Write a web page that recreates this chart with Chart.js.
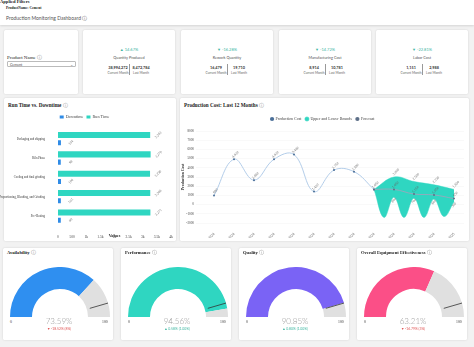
<!DOCTYPE html>
<html><head><meta charset="utf-8">
<script src="https://cdn.jsdelivr.net/npm/chart.js@4.4.1/dist/chart.umd.min.js"></script>
<style>
html,body{margin:0;padding:0;}
body{width:474px;height:347px;background:#f2f2f2;position:relative;overflow:hidden;font-family:Lato,"Liberation Sans",sans-serif;color:#444;}
.abs{position:absolute;}
.card{position:absolute;background:#fff;box-shadow:0 0 2px rgba(0,0,0,0.15);border-radius:1.5px;}
.ttl{position:absolute;font-family:"Liberation Serif",serif;font-weight:bold;font-size:5.2px;color:#222;white-space:nowrap;}
.ctr{position:absolute;left:0;right:0;text-align:center;white-space:nowrap;}
canvas{position:absolute;}
</style></head>
<body>
<div class="abs" style="left:0;top:0;width:474px;height:25px;background:#fff;box-shadow:0 1px 2px rgba(0,0,0,0.12);"></div>
<div class="abs" style="left:0;top:-1px;font-family:'Liberation Serif',serif;font-weight:bold;font-size:4.6px;color:#222;">Applied Filters</div>
<div class="abs" style="left:6px;top:6px;font-family:'Liberation Serif',serif;font-weight:bold;font-size:3.6px;color:#222;">ProductName: Cement</div>
<div class="abs" style="left:6px;top:14.5px;font-size:5px;color:#555;">Production Monitoring Dashboard &#9432;</div>

<div class="card" style="left:4px;top:30px;width:74px;height:64px;">
  <div class="abs" style="left:3px;top:23.5px;font-family:'Liberation Serif',serif;font-size:5px;color:#222;">Product Name <span style="color:#888">&#9432;</span></div>
  <div class="abs" style="left:3px;top:31px;width:69px;height:6px;border:0.5px solid #bbb;border-radius:1px;font-size:3.6px;line-height:6px;box-sizing:border-box;padding-left:2px;color:#444;">Cement<span style="position:absolute;right:2px;top:0;color:#777;font-size:3.6px;">&#8964;</span></div>
</div>
<div id="kpis"></div>

<div class="card" style="left:4px;top:98px;width:172px;height:143px;">
  <div class="ttl" style="left:4px;top:4px;">Run Time vs. Downtime <span style="color:#888;font-weight:normal">&#9432;</span></div>
</div>
<canvas id="bar" width="176" height="126" style="left:-2px;top:112px;"></canvas>

<div class="card" style="left:180px;top:98px;width:289px;height:143px;">
  <div class="ttl" style="left:4px;top:4px;">Production Cost: Last 12 Months <span style="color:#888;font-weight:normal">&#9432;</span></div>
</div>
<canvas id="line" width="288" height="125" style="left:180px;top:113px;"></canvas>

<div id="gauges"></div>

<script>
// ---------- DATA ----------
const kpiNames = ['Quantity Produced', 'Rework Quantity', 'Manufacturing Cost', 'Labor Cost'];
const kpiChange = [14.67, -16.28, -14.72, -22.81];
const kpiCurrent = [38994272, 16479, 8914, 1151];
const kpiLast = [8472784, 19710, 10781, 2988];

const barCategories = ['Packaging and shipping', 'Kiln Phase', 'Cooling and final grinding', 'Proportioning, Blending, and Grinding', 'Pre-Heating'];
const runTime = [3263, 3279, 3258, 3266, 3271];
const downTime = [104, 98, 106, 101, 99];
const barTickMax = 4000;

const months = ['Jan 2024','Feb 2024','Mar 2024','Apr 2024','May 2024','Jun 2024','Jul 2024','Aug 2024','Sep 2024','Oct 2024','Nov 2024','Dec 2024','Jan 2025'];
const productionCost = [980, 4930, 2660, 4930, 5440, 1420, 3750, 3580, 1650];
const forecastCost = [1650, 1650, 1150, 1050, 650];      // from Sep 2024 on
const upperBound = [1650, 3000, 2500, 2150, 1650];       // monthly, from Sep 2024 on
const lowerBound = [1650, -1400, 800, -1400, 700, -1400, 600, -1300, 300]; // half-month steps, from Sep 2024 on

const gaugeNames = ['Availability', 'Performance', 'Quality', 'Overall Equipment Effectiveness'];
const gaugeValues = [73.59, 94.56, 90.85, 63.21];
const gaugeChange = [-18.52, 0.58, 0.80, -16.79];
const gaugeNote = ['8%', '1.00%', '1.00%', '3%'];
const gaugeTargets = [91, 91, 91, 91];
const gaugeColors = ['#2f8ff0', '#2fd6c1', '#7a63f5', '#fb4f87'];

// ---------- KPI CARDS ----------
const fmt = v => v.toLocaleString('en-US');
const kpiLefts = [83, 181, 279, 376];
let kh = '';
kpiNames.forEach((n, i) => {
  const up = kpiChange[i] >= 0;
  kh += `<div class="card" style="left:${kpiLefts[i]}px;top:30px;width:92px;height:64px;">
    <div class="ctr" style="top:17px;font-size:4px;color:#3bb59f;">${up ? '&#9650;' : '&#9660;'} ${kpiChange[i].toFixed(2)}%</div>
    <div class="ctr" style="top:24.5px;font-size:3.8px;color:#555;">${n}</div>
    <div class="abs" style="left:46px;top:34px;width:0.6px;height:11px;background:#999;"></div>
    <div class="abs" style="left:24px;width:22px;top:35px;text-align:center;font-size:3.8px;font-weight:bold;color:#333;">${fmt(kpiCurrent[i])}</div>
    <div class="abs" style="left:47px;width:22px;top:35px;text-align:center;font-size:3.8px;font-weight:bold;color:#333;">${fmt(kpiLast[i])}</div>
    <div class="abs" style="left:24px;width:22px;top:40.5px;text-align:center;font-size:3.2px;color:#666;">Current Month</div>
    <div class="abs" style="left:47px;width:22px;top:40.5px;text-align:center;font-size:3.2px;color:#666;">Last Month</div>
  </div>`;
});
document.getElementById('kpis').innerHTML = kh;

// ---------- GAUGE CARDS ----------
const gLefts = [3, 121, 239, 357];
let gh = '';
gaugeNames.forEach((n, i) => {
  const up = gaugeChange[i] >= 0;
  gh += `<div class="card" style="left:${gLefts[i]}px;top:248px;width:110px;height:92px;">
    <div class="ttl" style="left:4px;top:2px;font-size:4.6px;">${n} <span style="color:#888;font-weight:normal">&#9432;</span></div>
    <canvas id="g${i}" width="100" height="50" style="left:6.5px;top:18.7px;"></canvas>
    <div class="abs" style="left:7px;top:72px;font-size:3.8px;color:#333;font-family:'Liberation Serif',serif;">0</div>
    <div class="abs" style="left:99px;top:72px;font-size:3.8px;color:#333;font-family:'Liberation Serif',serif;">100</div>
    <div class="ctr" style="top:68px;left:2px;font-size:8px;font-weight:300;color:#999;">${gaugeValues[i].toFixed(2)}%</div>
    <div class="ctr" style="top:78.5px;left:2px;font-size:3.4px;color:${up ? '#3bb59f' : '#e05555'};">${up ? '&#9650;' : '&#9660;'} ${gaugeChange[i].toFixed(2)}% (${gaugeNote[i]})</div>
  </div>`;
});
document.getElementById('gauges').innerHTML = gh;

// ---------- PLUGINS ----------
const SERIF = '"Liberation Serif", serif';
const valueLabels = {
  id: 'valueLabels',
  afterDatasetsDraw(chart) {
    const ctx = chart.ctx;
    chart.data.datasets.forEach((ds, i) => {
      if (!ds.lbl) return;
      const meta = chart.getDatasetMeta(i);
      meta.data.forEach((el, j) => {
        let v = ds.data[j];
        if (v && typeof v === 'object') { if (ds.lbl.intOnly && !Number.isInteger(v.x)) return; v = v.y; }
        if (v === null || v === undefined) return;
        if (ds.lbl.skip && ds.lbl.skip.includes(j)) return;
        ctx.save();
        ctx.translate(el.x + ds.lbl.dx, el.y + ds.lbl.dy);
        ctx.rotate(-Math.PI / 4);
        ctx.font = `${ds.lbl.size || 3.6}px ${SERIF}`;
        ctx.fillStyle = '#666';
        ctx.textAlign = 'center';
        ctx.textBaseline = 'middle';
        ctx.fillText(fmt(v), 0, 0);
        ctx.restore();
      });
    });
  }
};
const gaugeMarker = {
  id: 'gaugeMarker',
  afterDatasetsDraw(chart, args, opts) {
    const arc = chart.getDatasetMeta(0).data[0];
    const a = arc.startAngle + (opts.value / 100) * Math.PI;
    const ctx = chart.ctx;
    ctx.save();
    ctx.strokeStyle = '#333';
    ctx.lineWidth = 0.8;
    ctx.beginPath();
    ctx.moveTo(arc.x + Math.cos(a) * (arc.innerRadius + 3), arc.y + Math.sin(a) * (arc.innerRadius + 3));
    ctx.lineTo(arc.x + Math.cos(a) * arc.outerRadius, arc.y + Math.sin(a) * arc.outerRadius);
    ctx.stroke();
    ctx.restore();
  }
};

// ---------- BAR CHART ----------
new Chart(document.getElementById('bar'), {
  type: 'bar',
  data: {
    labels: barCategories,
    datasets: [
      { label: 'Run Time', data: runTime, backgroundColor: '#2fd6c1', barPercentage: 0.78, categoryPercentage: 0.8, lbl: { dx: 8, dy: 0 } },
      { label: 'Downtime', data: downTime, backgroundColor: '#2f8be6', barPercentage: 0.65, categoryPercentage: 0.8, lbl: { dx: 10, dy: 0 } }
    ]
  },
  options: {
    indexAxis: 'y', responsive: false, animation: false, events: [],
    layout: { padding: { right: 3, left: 0, top: 0, bottom: 0 } },
    plugins: {
      legend: { reverse: true, labels: { font: { size: 4.2, family: SERIF }, color: '#444', boxWidth: 4, boxHeight: 3, padding: 3 } },
      tooltip: { enabled: false }
    },
    scales: {
      x: {
        min: 0, max: barTickMax,
        ticks: { stepSize: 500, font: { size: 3.6, family: SERIF }, color: '#444', padding: 1, maxRotation: 0,
          callback: v => v >= 1000 ? (v / 1000) + 'k' : v },
        grid: { display: false }, border: { display: false },
        title: { display: true, text: 'Values', font: { size: 4.2, family: SERIF, weight: 'bold' }, color: '#222', padding: 0 },
        afterFit(s) { s.height = 12; }
      },
      y: {
        ticks: { font: { size: 2.95, family: SERIF }, color: '#333', padding: 5 },
        grid: { display: false }, border: { display: false },
        afterFit(s) { s.width = 60; }
      }
    }
  },
  plugins: [valueLabels]
});

// ---------- LINE CHART ----------
const startIdx = productionCost.length - 1;
const prodData = productionCost.concat(months.slice(productionCost.length).map(() => null));
const fcData = months.map((m, i) => i >= startIdx ? forecastCost[i - startIdx] : null);
const upperPts = upperBound.map((v, k) => ({ x: startIdx + k, y: v }));
const lowerPts = lowerBound.map((v, k) => ({ x: startIdx + k / 2, y: v }));

new Chart(document.getElementById('line'), {
  type: 'line',
  data: {
    labels: months,
    datasets: [
      { label: 'Production Cost', data: prodData, borderColor: '#aac7e6', backgroundColor: '#aac7e6', borderWidth: 0.9,
        pointRadius: 1, pointBackgroundColor: '#4a6f99', pointBorderWidth: 0, tension: 0.4, fill: false, order: 1,
        lbl: { dx: 1.5, dy: -4.5 } },
      { label: 'Upper and Lower Bounds', data: upperPts, xAxisID: 'xb', borderColor: '#2fd6c1', backgroundColor: '#2fd6c1',
        borderWidth: 0.5, pointRadius: 0, tension: 0.4, fill: '+1', order: 3, lbl: { dx: 2, dy: -5, skip: [0] } },
      { label: 'Lower', data: lowerPts, xAxisID: 'xb', borderColor: '#2fd6c1', backgroundColor: '#2fd6c1',
        borderWidth: 0.5, pointRadius: 0, tension: 0.4, fill: false, order: 3, lbl: { dx: 0, dy: 3, intOnly: true, skip: [0] } },
      { label: 'Forecast', data: fcData, borderColor: '#9aa7bb', backgroundColor: '#9aa7bb', borderWidth: 0.9,
        pointRadius: 1, pointBackgroundColor: '#5d6f88', pointBorderWidth: 0, tension: 0.4, fill: false, order: 0,
        lbl: { dx: 1.5, dy: -4.5, skip: [8] } }
    ]
  },
  options: {
    responsive: false, animation: false, events: [], spanGaps: false,
    layout: { padding: { right: 3, left: 0, top: 0, bottom: 0 } },
    plugins: {
      legend: { labels: { font: { size: 4, family: SERIF }, color: '#444', usePointStyle: true, boxWidth: 3, boxHeight: 3, padding: 4,
        filter: it => it.text !== 'Lower', sort: (a, b) => a.datasetIndex - b.datasetIndex } },
      tooltip: { enabled: false }
    },
    scales: {
      x: {
        offset: true,
        ticks: { font: { size: 3.6, family: SERIF }, color: '#444', minRotation: 45, maxRotation: 45, padding: 1, autoSkip: false },
        grid: { display: false }, border: { display: false },
        afterFit(s) { s.height = 15; }
      },
      xb: { type: 'linear', display: false, min: -0.5, max: months.length - 0.5 },
      y: {
        min: -2000, max: 8000,
        ticks: { stepSize: 1000, font: { size: 3.3, family: SERIF }, color: '#444', padding: 2, callback: v => String(v) },
        grid: { color: '#f3f3f3', lineWidth: 0.5 }, border: { display: false },
        title: { display: true, text: 'Production Cost', font: { size: 3.8, family: SERIF, weight: 'bold' }, color: '#222', padding: 1 },
        afterFit(s) { s.width = 24; }
      }
    }
  },
  plugins: [valueLabels]
});

// ---------- GAUGES ----------
gaugeNames.forEach((n, i) => {
  new Chart(document.getElementById('g' + i), {
    type: 'doughnut',
    data: { labels: ['Value', 'Rest'], datasets: [{ data: [gaugeValues[i], 100 - gaugeValues[i]], backgroundColor: [gaugeColors[i], '#e0e0e0'], borderWidth: 0 }] },
    options: {
      responsive: false, animation: false, events: [], rotation: -90, circumference: 180, cutout: '56%',
      plugins: { legend: { display: false }, tooltip: { enabled: false }, gaugeMarker: { value: gaugeTargets[i] } }
    },
    plugins: [gaugeMarker]
  });
});
</script>
</body></html>
